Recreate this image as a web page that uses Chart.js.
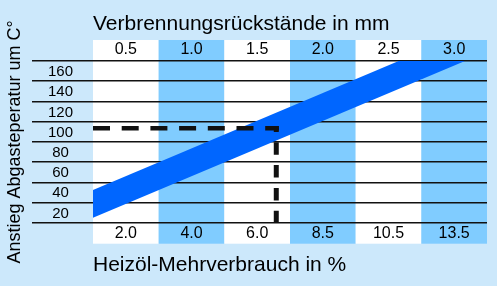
<!DOCTYPE html>
<html>
<head>
<meta charset="utf-8">
<script src="https://cdn.jsdelivr.net/npm/chart.js@4"></script>
<style>
html,body{margin:0;padding:0;background:#cce8fb;}
#wrap{width:497px;height:286px;}
</style>
</head>
<body>
<div id="wrap"><canvas id="c" width="497" height="286"></canvas></div>
<script>
// ---- data ----
const topLabels = ['0.5', '1.0', '1.5', '2.0', '2.5', '3.0'];          // Verbrennungsrückstände in mm
const bottomLabels = ['2.0', '4.0', '6.0', '8.5', '10.5', '13.5'];     // Heizöl-Mehrverbrauch in %
const yTickLabels = [20, 40, 60, 80, 100, 120, 140, 160];               // Anstieg Abgastemperatur
const bandUpper = [{x: 0, y: 32.4}, {x: 4.655, y: 160}, {x: 5.665, y: 160}];
const bandLower = [{x: 0, y: 4.9}, {x: 5.665, y: 160}];
const guideH = [{x: 0, y: 93.4}, {x: 2.832, y: 93.4}];
const guideV = [{x: 2.791, y: 93.4}, {x: 2.791, y: 0}];

// ---- styles ----
const BG = '#cce8fb';
const COL_WHITE = '#ffffff';
const COL_BLUE = '#80ccff';
const BAND = '#0066ff';
const INK = '#111111';
const FONT = "'Liberation Sans', Arial, Helvetica, sans-serif";

Chart.defaults.font.family = FONT;
Chart.defaults.color = '#000';

const columnsPlugin = {
  id: 'columns',
  beforeDraw(chart) {
    const {ctx, chartArea, scales} = chart;
    const x = scales.x;
    ctx.save();
    ctx.fillStyle = BG;
    ctx.fillRect(0, 0, chart.width, chart.height);
    const top = chartArea.top - 21;
    const bottom = chartArea.bottom + 21;
    for (let i = 0; i < topLabels.length; i++) {
      const x0 = x.getPixelForValue(i);
      const x1 = x.getPixelForValue(i + 1);
      ctx.fillStyle = i % 2 ? COL_BLUE : COL_WHITE;
      ctx.fillRect(x0, top, x1 - x0, bottom - top);
    }
    ctx.restore();
  }
};

new Chart(document.getElementById('c'), {
  type: 'line',
  data: {
    datasets: [
      {
        data: guideH, xAxisID: 'x', yAxisID: 'y',
        borderColor: INK, borderWidth: 4.5, borderDash: [17, 11.7], borderCapStyle: 'butt',
        pointRadius: 0, fill: false, tension: 0
      },
      {
        data: guideV, xAxisID: 'x', yAxisID: 'y',
        borderColor: INK, borderWidth: 5, borderDash: [12.5, 10.3], borderDashOffset: 8.8, borderCapStyle: 'butt',
        pointRadius: 0, fill: false, tension: 0
      },
      {
        data: bandUpper, xAxisID: 'x', yAxisID: 'y',
        borderWidth: 0, borderColor: BAND, pointRadius: 0, fill: false, tension: 0
      },
      {
        data: bandLower, xAxisID: 'x', yAxisID: 'y',
        borderWidth: 0, borderColor: BAND, backgroundColor: BAND, pointRadius: 0, fill: '-1', tension: 0
      }
    ]
  },
  options: {
    responsive: false,
    devicePixelRatio: 1,
    animation: false,
    events: [],
    layout: {padding: {left: 0, right: 10, top: 0, bottom: 0}},
    plugins: {legend: {display: false}, tooltip: {enabled: false}},
    scales: {
      x: {
        type: 'linear', position: 'bottom', min: 0, max: 6,
        afterBuildTicks: s => { s.ticks = bottomLabels.map((_, i) => ({value: i + 0.5})); },
        afterFit: s => { s.height = 63.3; },
        grid: {display: false, drawTicks: false},
        border: {display: false},
        ticks: {
          callback: (v, i) => bottomLabels[i],
          padding: 1, maxRotation: 0, autoSkip: false,
          font: {size: 16}, color: '#000'
        },
        title: {
          display: true, text: 'Heizöl-Mehrverbrauch in %', align: 'start',
          font: {size: 21}, color: '#000', padding: {top: 0, bottom: 8.4}
        }
      },
      xTop: {
        type: 'category', position: 'top', labels: topLabels, offset: true,
        afterFit: s => { s.height = 61; },
        grid: {display: false, drawTicks: false},
        border: {display: false},
        ticks: {padding: 2, maxRotation: 0, autoSkip: false, font: {size: 16}, color: '#000'},
        title: {
          display: true, text: 'Verbrennungsrückstände in mm', align: 'start',
          font: {size: 21}, color: '#000', padding: {top: 12, bottom: 0}
        }
      },
      y: {
        type: 'linear', position: 'left', min: 0, max: 160, z: 1,
        afterBuildTicks: s => { s.ticks = [0].concat(yTickLabels).map(v => ({value: v})); },
        afterFit: s => { s.width = 93; },
        grid: {color: INK, lineWidth: 1.5, drawTicks: true, tickLength: 61, tickColor: INK, tickWidth: 1.5},
        border: {display: false},
        ticks: {
          autoSkip: false,
          callback: v => yTickLabels.includes(v) ? String(v) : '',
          labelOffset: 11, padding: -41, crossAlign: 'center',
          font: {size: 15}, color: '#000'
        },
        title: {
          display: true, text: 'Anstieg Abgasteperatur um C°',
          font: {size: 18}, color: '#000', padding: {top: 4, bottom: 0}
        }
      }
    }
  },
  plugins: [columnsPlugin]
});
</script>
</body>
</html>
